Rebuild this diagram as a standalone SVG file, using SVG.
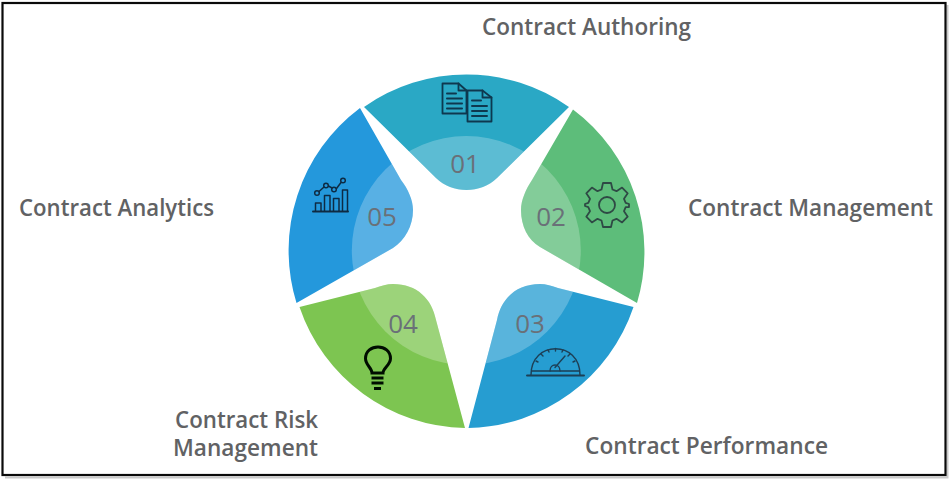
<svg xmlns="http://www.w3.org/2000/svg" width="949" height="481" viewBox="0 0 949 481">
<style>
.lbl{font-family:"Open Sans","Liberation Sans",sans-serif;font-size:23px;font-weight:600;fill:#616264}
.num{font-family:"Open Sans","Liberation Sans",sans-serif;font-size:26px;font-weight:500;fill:#6a7078;text-anchor:middle}
.ic{fill:none;stroke:#10394f;stroke-width:1.8;stroke-linejoin:round;stroke-linecap:round}
.hl{fill:#fff;fill-opacity:.24}
</style>
<defs>
<clipPath id="inner"><circle cx="466.3" cy="250.500" r="114.500"/></clipPath>
<path id="s1" d="M364 107A178 178 0 0 1 569 107L497 178C481 194 452 194 436 178Z"/>
<path id="s2" d="M573 109.500A178 178 0 0 1 637 303L540 247C528 240 521 226 521 210C521 200 526 189 532 180Z"/>
<path id="s3" d="M633.500 307A178 178 0 0 1 468.500 428L497 320C501 299 516 284 540 284C546 284 552 286 558 288Z"/>
<path id="s4" d="M299.500 307L375 288C381 286 387 284 393 284C417 284 432 299 436 320L465 428A178 178 0 0 1 299.500 307Z"/>
<path id="s5" d="M360 108A178 178 0 0 0 296.500 303L393 248C405 240 413 226 413 210C413 200 408 189 401 180Z"/>
<filter id="sh" x="-5%" y="-5%" width="110%" height="110%"><feGaussianBlur stdDeviation="0.4"/></filter>
</defs>
<rect width="949" height="481" fill="#fff"/>
<path d="M947.500 5V477.500H5" fill="none" stroke="#c9c9c9" stroke-width="2"/>
<rect x="2.500" y="3" width="943" height="472" fill="#fff" stroke="#0a0a0a" stroke-width="2.200"/>
<g id="node-01">
<use href="#s1" fill="#2aa8c5"/>
<g clip-path="url(#inner)"><use href="#s1" class="hl"/></g>
<g class="ic" filter="url(#sh)">
<path d="M442.500 83.500H458.500L466.500 90.500V113.500H442.500Z"/><path d="M458.500 83.500V90.500H466.500"/>
<path d="M447 93.500H456M447 98.500H462M447 103.500H462M447 108.500H462" stroke-width="2"/>
<path d="M467.500 90.500H482.500L491.500 97.500V121.500H467.500Z"/><path d="M482.500 90.500V97.500H491.500"/>
<path d="M472 100.500H481M472 106H487M472 111H487M472 116H487" stroke-width="2"/>
</g>
<text class="num" x="465" y="173">01</text>
<text class="lbl" x="482" y="35" textLength="209" lengthAdjust="spacingAndGlyphs">Contract Authoring</text>
</g>
<g id="node-02">
<use href="#s2" fill="#5dbd7a"/>
<g clip-path="url(#inner)"><use href="#s2" class="hl"/></g>
<g class="ic" filter="url(#sh)" style="stroke:#2f4a44">
<circle cx="607" cy="205" r="8"/>
<path d="M603 183H611L612.500 189.500L616.500 191.200L622.100 187.600L627.700 193.300L624 198.800L625.700 202.800L629 204V207L625.700 207.200L624 211.200L627.700 216.700L622.100 222.400L616.500 218.800L612.500 220.500L611 227H603L601.500 220.500L597.500 218.800L591.900 222.400L586.300 216.700L590 211.200L588.300 207.200L585 206V204L588.300 202.800L590 198.800L586.300 193.300L591.900 187.600L597.500 191.200L601.500 189.500Z"/>
</g>
<text class="num" x="551" y="226">02</text>
<text class="lbl" x="688" y="216" textLength="245" lengthAdjust="spacingAndGlyphs">Contract Management</text>
</g>
<g id="node-03">
<use href="#s3" fill="#269dd1"/>
<g clip-path="url(#inner)"><use href="#s3" class="hl"/></g>
<g class="ic" filter="url(#sh)" style="stroke:#1d3f56;stroke-width:1.400">
<path d="M531 375C531 340 580 340 580 375"/>
<path d="M527 375.500H584" stroke-width="2"/>
<path d="M532 371H579"/>
<path d="M555 367.500L565 356M550 371C550 363 560 363 560 371"/>
<path d="M536 361L538 362M541 354L543 356M548 350L549 352M555.500 348.500V351M563 350L562 352M570 354L568 356M575 361L573 362"/>
</g>
<text class="num" x="530" y="333">03</text>
<text class="lbl" x="585" y="454" textLength="243" lengthAdjust="spacingAndGlyphs">Contract Performance</text>
</g>
<g id="node-04">
<use href="#s4" fill="#7dc551"/>
<g clip-path="url(#inner)"><use href="#s4" class="hl"/></g>
<g fill="none" stroke="#060f06" stroke-width="3" stroke-linecap="round" filter="url(#sh)">
<path d="M372 373C372 368 365.500 365 365.500 358.500C365.500 343 390.500 343 390.500 358.500C390.500 365 383 368 383 373Z"/>
<path d="M371.500 378H383.500M371.500 383H383.500" stroke-linecap="butt"/>
<path d="M374 388.500H381" stroke-linecap="butt"/>
</g>
<text class="num" x="403" y="333">04</text>
<text class="lbl" x="175" y="428" textLength="143" lengthAdjust="spacingAndGlyphs">Contract Risk</text>
<text class="lbl" x="173" y="456" textLength="145" lengthAdjust="spacingAndGlyphs">Management</text>
</g>
<g id="node-05">
<use href="#s5" fill="#2498dc"/>
<g clip-path="url(#inner)"><use href="#s5" class="hl"/></g>
<g class="ic" filter="url(#sh)" style="stroke:#0e2c44;stroke-width:1.500">
<path d="M313 211.500H348" stroke-width="2"/>
<path d="M315.500 211V203H321V211M324.500 211V195.500H330V211M333.500 211V198.500H339V211M342.500 211V190H347.500V211"/>
<path d="M319 191.500L324 187M328.500 186L332 188M336.500 188.500L341 182.500"/>
<circle cx="317" cy="193" r="2.300"/><circle cx="326" cy="185.500" r="2.300"/><circle cx="334" cy="189.500" r="2.300"/><circle cx="343" cy="180.500" r="2.300"/>
</g>
<text class="num" x="382" y="226">05</text>
<text class="lbl" x="19" y="216" textLength="195" lengthAdjust="spacingAndGlyphs">Contract Analytics</text>
</g>
<g id="connectors"/>
</svg>
